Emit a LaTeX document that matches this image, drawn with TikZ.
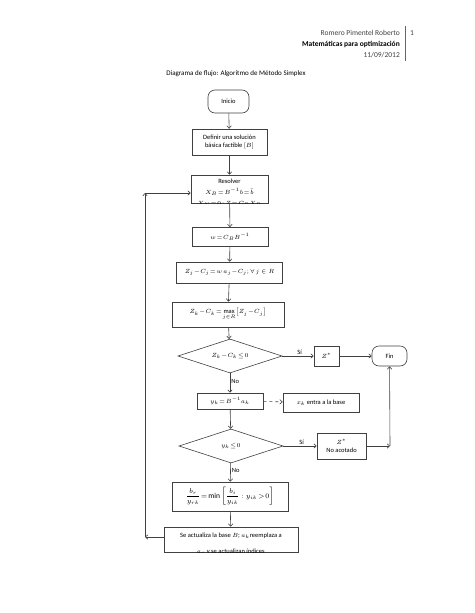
\documentclass[tikz,border=0pt]{standalone}
\usepackage{amsmath}
\usepackage{fontspec}
\setmainfont{Carlito}
\usetikzlibrary{shapes.geometric, calc, arrows.meta}
\tikzset{
  caja/.style={draw=black!75, line width=0.6pt, minimum width=#1, inner sep=0pt, font=\fontsize{6.5}{8}\selectfont, align=center},
  term/.style={caja=#1, rounded corners=7pt},
  rombo/.style={draw=black!75, line width=0.6pt, diamond, aspect=3, inner sep=0pt, minimum width=104pt, minimum height=34pt, font=\fontsize{6.5}{8}\selectfont},
  flecha/.style={draw=black!75, line width=0.6pt, -{Straight Barb[length=2.5pt,width=4.5pt]}},
  etiq/.style={font=\fontsize{6.5}{8}\selectfont, inner sep=1pt}
}
\begin{document}
\begin{tikzpicture}[x=1pt,y=-1pt]
    \useasboundingbox (0,0) rectangle (474,613);
    \node[anchor=east, text=black!75, font=\fontsize{7.5}{9}\selectfont, inner sep=0pt] (autor) at (400,33) {Romero Pimentel Roberto};
    \node[anchor=east, font=\bfseries\fontsize{7.5}{9}\selectfont, inner sep=0pt] (materia) at (400,44) {Matemáticas para optimización};
    \node[anchor=east, text=black!75, font=\fontsize{7.5}{9}\selectfont, inner sep=0pt] (fecha) at (400,55) {11/09/2012};
    \draw[black!60, line width=0.5pt] (405,26) -- (405,61);
    \node[anchor=west, text=black!75, font=\fontsize{7.5}{9}\selectfont, inner sep=0pt] (pagina) at (410,33) {1};
    \node[font=\fontsize{7}{8}\selectfont] (titulo) at (236,74) {Diagrama de flujo: Algoritmo de Método Simplex};

    \node[term=41pt, minimum height=23pt] (inicio) at (228.5,101.5) {Inicio};
    \node[caja=75pt, minimum height=26pt] (definir) at (229.5,142) {Definir una solución\\básica factible $[B]$};
    \node[caja=77pt, minimum height=28pt] (resolver) at (229.5,189) {};
    \begin{scope}
      \clip (resolver.south west) rectangle (resolver.north east);
      \node[anchor=north, align=center, inner sep=0pt, font=\fontsize{6.5}{11}\selectfont] (resolvertxt) at ($(resolver.north)+(0,4)$) {Resolver\\$X_B\!=\!B^{-1}b\!=\!\bar{b}$\\$X_N\!=\!0\,;Z\!=\!C_BX_B$};
    \end{scope}
    \node[caja=76pt, minimum height=19pt] (w) at (230,237) {$w\!=\!C_BB^{-1}$};
    \node[caja=106pt, minimum height=21pt] (zj) at (229.5,272.5) {$Z_j\!-\!C_j\!=\!w\,a_j\!-\!C_j;\forall\, j\in R$};
    \node[caja=112pt, minimum height=25pt] (zk) at (228,314.5) {$Z_k\!-\!C_k\!=\!\max\limits_{j\in R}\bigl[Z_j\!-\!C_j\bigr]$};
    \node[rombo] (opt) at (230,356) {$Z_k\!-\!C_k\!\le\!0$};
    \node[caja=25pt, minimum height=20pt] (zopt) at (326.5,356) {$Z^{*}$};
    \node[term=35pt, minimum height=20pt] (fin) at (389.5,356) {Fin};
    \node[caja=66pt, minimum height=16pt] (yk) at (230,401) {$y_k\!=\!B^{-1}a_k$};
    \node[caja=76pt, minimum height=19pt] (xk) at (321,402.5) {$x_k$ entra a la base};
    \node[rombo] (acot) at (231,446) {$y_k\!\le\!0$};
    \node[caja=49pt, minimum height=26pt] (noacot) at (341.5,446) {$Z^{*}$\\No acotado};
    \node[caja=116pt, minimum height=29pt, font=\fontsize{7.5}{9}\selectfont] (minimo) at (230,496.5) {$\dfrac{b_r}{y_{rk}}\!=\!\min\left[\dfrac{b_i}{y_{ik}}:y_{ik}\!>\!0\right]$};
    \node[caja=134pt, minimum height=25pt] (actualiza) at (231,539.5) {};
    \begin{scope}
      \clip (actualiza.south west) rectangle (actualiza.north east);
      \node[anchor=north, align=center, inner sep=0pt, font=\fontsize{6.5}{16}\selectfont] (actualizatxt) at ($(actualiza.north)+(0,6)$) {Se actualiza la base $B$; $a_k$reemplaza a\\$a_r$ y se actualizan índices};
    \end{scope}

    \coordinate (esquina) at (390,446);
    \coordinate (retorno) at (145,537);
    \coordinate (arriba) at (145,193);

    \draw[flecha] (inicio) -- (definir);
    \draw[flecha] (definir) -- (resolver);
    \draw[flecha] (resolver) -- (w);
    \draw[flecha] (w) -- (zj);
    \draw[flecha] (zj) -- (zk);
    \draw[flecha] (zk) -- (opt);
    \draw[flecha] (opt) -- node[etiq, above, pos=0.55] {Sí} (zopt);
    \draw[flecha] (zopt) -- (fin);
    \draw[flecha] (opt) -- node[etiq, right, pos=0.4] {No} (yk);
    \draw[flecha, dashed] (yk) -- (xk);
    \draw[flecha] (yk) -- (acot);
    \draw[flecha] (acot) -- node[etiq, above, pos=0.55] {Sí} (noacot);
    \draw[flecha] (noacot) -- (esquina);
    \draw[flecha] (esquina) -- (fin);
    \draw[flecha] (acot) -- node[etiq, right, pos=0.4] {No} (minimo);
    \draw[flecha] (minimo) -- (actualiza);
    \draw[flecha] (actualiza.west |- retorno) -- (retorno);
    \draw[flecha] (retorno) -- (arriba);
    \draw[flecha] (arriba) -- (resolver.west |- arriba);
  \end{tikzpicture}
\end{document}
